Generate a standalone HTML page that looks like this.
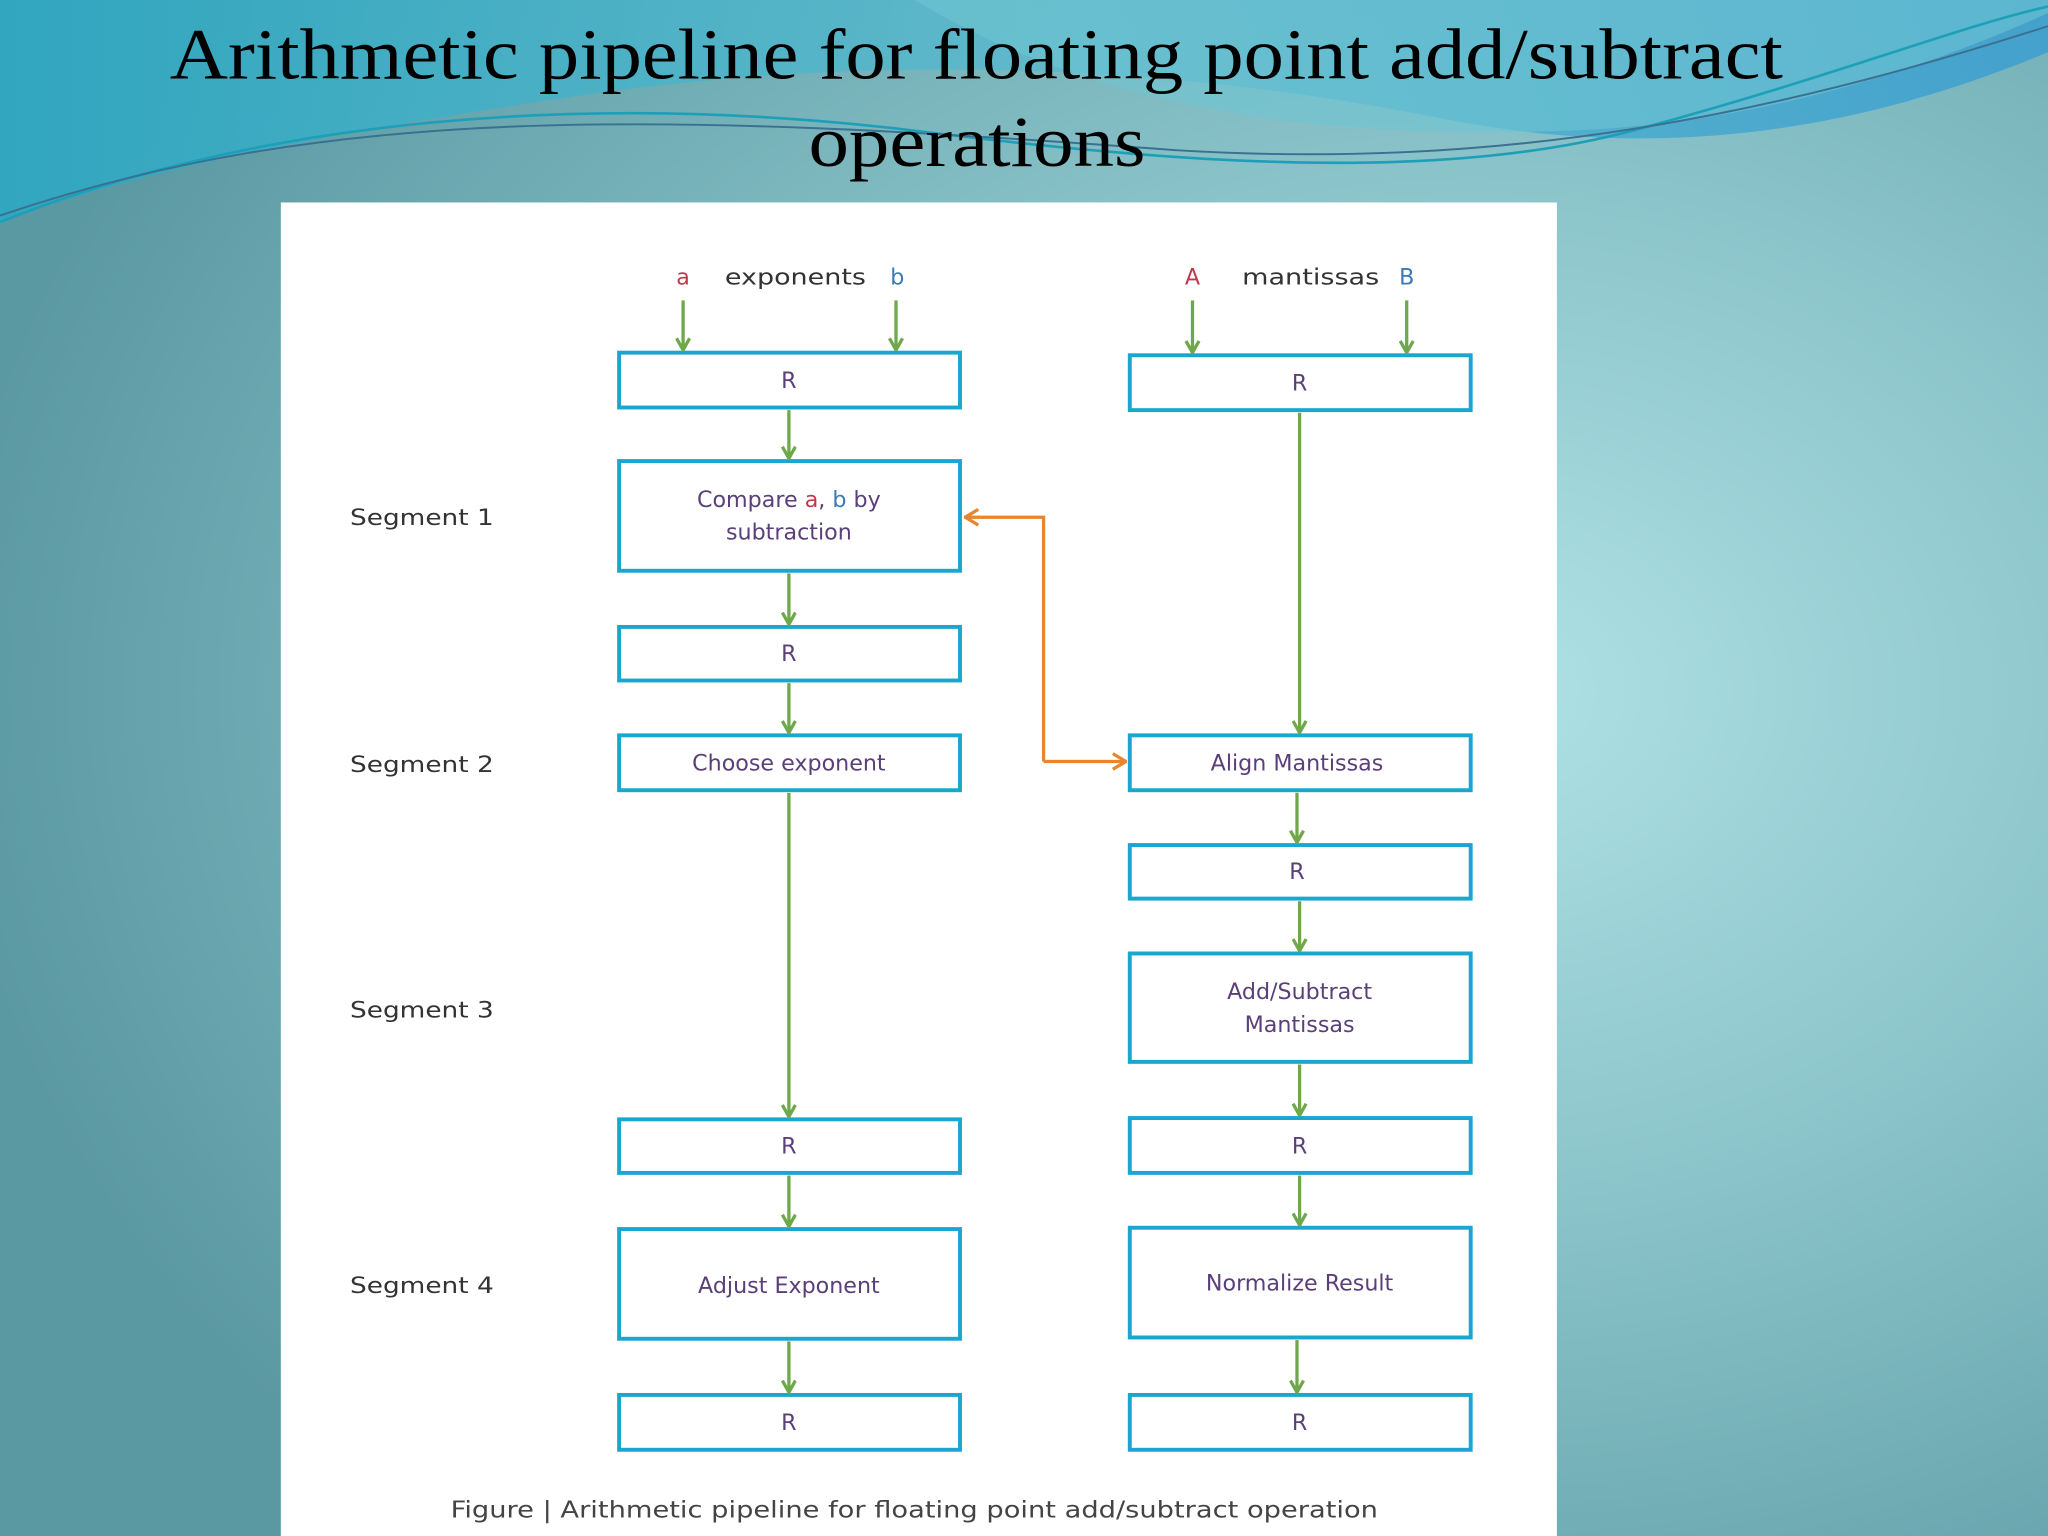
<!DOCTYPE html>
<html><head><meta charset="utf-8"><style>html,body{margin:0;padding:0;overflow:hidden;background:#6fa8b0}</style></head>
<body>
<svg width="2048" height="1536" viewBox="0 0 1568 1176" xmlns="http://www.w3.org/2000/svg" style="display:block">
<defs>
<radialGradient id="bg" cx="0.72" cy="0.45" r="0.75">
<stop offset="0" stop-color="#b0e2e6"/><stop offset="0.5" stop-color="#86c0c6"/><stop offset="1" stop-color="#5a98a2"/></radialGradient>
<linearGradient id="wv" x1="0" y1="0" x2="1" y2="0"><stop offset="0" stop-color="#2aa9c4"/><stop offset="0.5" stop-color="#5ab8cc"/><stop offset="1" stop-color="#3a9ed0"/></linearGradient>
<marker id="ag" markerWidth="12" markerHeight="12" refX="11" refY="6" orient="auto" markerUnits="userSpaceOnUse"><path d="M2,1 L11,6 L2,11" fill="none" stroke="#6ea84a" stroke-width="2.5"/></marker>
<marker id="ao" markerWidth="14" markerHeight="14" refX="13" refY="7" orient="auto" markerUnits="userSpaceOnUse"><path d="M3,1 L13,7 L3,13" fill="none" stroke="#e8852f" stroke-width="2.5"/></marker>
</defs>
<rect width="1568" height="1176" fill="url(#bg)"/>
<path d="M0,0 H1568 V40 C1400,110 1250,120 1100,90 C950,60 700,30 400,80 C200,110 80,140 0,170 Z" fill="url(#wv)" opacity="0.85"/>
<path d="M700,0 C800,60 950,110 1200,100 C1350,95 1480,50 1568,10 V0 Z" fill="#6ec4d2" opacity="0.6"/>
<path d="M0,170 C200,90 450,70 700,100 C900,125 1100,140 1250,100 C1400,60 1500,20 1568,5" fill="none" stroke="#1e9fb8" stroke-width="2"/>
<path d="M0,165 C250,80 500,85 900,115 C1150,130 1350,90 1568,20" fill="none" stroke="#3a7090" stroke-width="1.5"/>
<text x="130" y="60" textLength="1235" lengthAdjust="spacingAndGlyphs" font-family="Liberation Serif, serif" font-size="55" fill="#000">Arithmetic pipeline for floating point add/subtract</text>
<text x="619" y="127" textLength="258" lengthAdjust="spacingAndGlyphs" font-family="Liberation Serif, serif" font-size="55" fill="#000">operations</text>
<rect x="215" y="155" width="977" height="1021" fill="#fff"/>
<g font-family="DejaVu Sans, Liberation Sans, sans-serif" font-size="17">
<text x="523" y="218" text-anchor="middle" fill="#c0394a">a</text>
<text x="555" y="218" textLength="108" lengthAdjust="spacingAndGlyphs" fill="#333">exponents</text>
<text x="687" y="218" text-anchor="middle" fill="#3a7ab8">b</text>
<text x="913" y="218" text-anchor="middle" fill="#c0394a">A</text>
<text x="951" y="218" textLength="105" lengthAdjust="spacingAndGlyphs" fill="#333">mantissas</text>
<text x="1077" y="218" text-anchor="middle" fill="#3a7ab8">B</text>
<g fill="#333"><text x="268" y="402" textLength="110" lengthAdjust="spacingAndGlyphs">Segment 1</text><text x="268" y="591" textLength="110" lengthAdjust="spacingAndGlyphs">Segment 2</text><text x="268" y="779" textLength="110" lengthAdjust="spacingAndGlyphs">Segment 3</text><text x="268" y="990" textLength="110" lengthAdjust="spacingAndGlyphs">Segment 4</text></g>
<g fill="none" stroke="#1ba6d0" stroke-width="3">
<rect x="474" y="270" width="261" height="42"/><rect x="474" y="353" width="261" height="84"/><rect x="474" y="480" width="261" height="41"/><rect x="474" y="563" width="261" height="42"/><rect x="474" y="857" width="261" height="41"/><rect x="474" y="941" width="261" height="84"/><rect x="474" y="1068" width="261" height="42"/>
<rect x="865" y="272" width="261" height="42"/><rect x="865" y="563" width="261" height="42"/><rect x="865" y="647" width="261" height="41"/><rect x="865" y="730" width="261" height="83"/><rect x="865" y="856" width="261" height="42"/><rect x="865" y="940" width="261" height="84"/><rect x="865" y="1068" width="261" height="42"/>
</g>
<g fill="#5a3f7a" text-anchor="middle">
<text x="604" y="297">R</text><text x="604" y="388">Compare <tspan fill="#c0394a">a</tspan>, <tspan fill="#3a7ab8">b</tspan> by</text><text x="604" y="413">subtraction</text><text x="604" y="506">R</text><text x="604" y="590">Choose exponent</text><text x="604" y="883">R</text><text x="604" y="990">Adjust Exponent</text><text x="604" y="1095">R</text>
<text x="995" y="299">R</text><text x="993" y="590">Align Mantissas</text><text x="993" y="673">R</text><text x="995" y="765">Add/Subtract</text><text x="995" y="790">Mantissas</text><text x="995" y="883">R</text><text x="995" y="988">Normalize Result</text><text x="995" y="1095">R</text>
</g>
</g>
<g stroke="#6ea84a" stroke-width="2.5" marker-end="url(#ag)">
<line x1="523" y1="230" x2="523" y2="268"/><line x1="686" y1="230" x2="686" y2="268"/><line x1="913" y1="230" x2="913" y2="270"/><line x1="1077" y1="230" x2="1077" y2="270"/>
<line x1="604" y1="314" x2="604" y2="351"/><line x1="604" y1="439" x2="604" y2="478"/><line x1="604" y1="523" x2="604" y2="561"/><line x1="604" y1="607" x2="604" y2="855"/><line x1="604" y1="900" x2="604" y2="939"/><line x1="604" y1="1027" x2="604" y2="1066"/>
<line x1="995" y1="316" x2="995" y2="561"/><line x1="993" y1="607" x2="993" y2="645"/><line x1="995" y1="690" x2="995" y2="728"/><line x1="995" y1="815" x2="995" y2="854"/><line x1="995" y1="900" x2="995" y2="938"/><line x1="993" y1="1026" x2="993" y2="1066"/>
</g>
<path d="M799,583 V396 H739" fill="none" stroke="#e8852f" stroke-width="2.5" marker-end="url(#ao)"/>
<path d="M799,583 H862" fill="none" stroke="#e8852f" stroke-width="2.5" marker-end="url(#ao)"/>
<text x="345" y="1162" textLength="710" lengthAdjust="spacingAndGlyphs" font-family="DejaVu Sans, Liberation Sans, sans-serif" font-size="18" fill="#444">Figure | Arithmetic pipeline for floating point add/subtract operation</text>
</svg>
</body></html>
